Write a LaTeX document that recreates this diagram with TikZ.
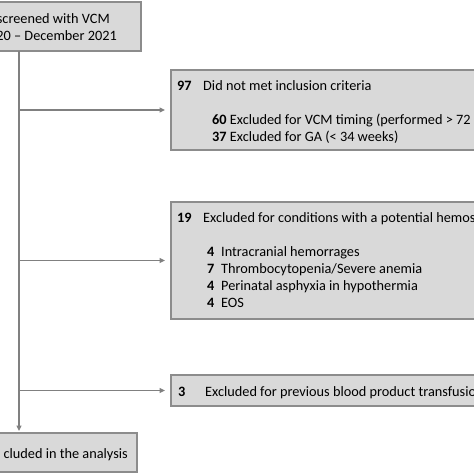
\documentclass[tikz,border=0pt]{standalone}
\usepackage{fontspec}
\setmainfont{Carlito}
\usetikzlibrary{arrows.meta}
\definecolor{cFill}{HTML}{D9D9D9}
\definecolor{cEdge}{HTML}{8C8C8C}
\definecolor{cLine}{HTML}{808080}
\tikzset{
  box/.style ={draw=cEdge,fill=cFill,line width=1.4pt,inner sep=0pt,
               outer sep=0pt,anchor=north west},
  txt/.style ={anchor=base west,inner sep=0pt,
               font=\fontsize{14.3}{17}\selectfont},
  num/.style ={txt,font=\fontsize{14.3}{17}\selectfont\bfseries},
  flow/.style={-{Triangle[length=5.5pt,width=5pt]},draw=cLine,line width=1.4pt},
}

\begin{document}
\begin{tikzpicture}[x=1pt,y=-1pt]
\useasboundingbox (0,0) rectangle (474,474);
\clip (0,0) rectangle (474,474);

% boxes (cut off at the picture edges)
\node[box,minimum width=221pt,minimum height=49pt]  (screen) at (-80,2)   {};
\node[box,minimum width=340pt,minimum height=80pt]  (excl1)  at (171,70)  {};
\node[box,minimum width=340pt,minimum height=117pt] (excl2)  at (171,202) {};
\node[box,minimum width=340pt,minimum height=31pt]  (excl3)  at (171,375) {};
\node[box,minimum width=217pt,minimum height=39pt]  (incl)   at (-80,433) {};

% texts
\node[txt,anchor=base east] (t0a) at (110,23) {screened with VCM};
\node[txt,anchor=base east] (t0b) at (117,40) {20 -- December 2021};

\node[num] (n1)  at (177,90)  {97};
\node[txt] (t1)  at (203,90)  {Did not met inclusion criteria};
\node[txt] (t1a) at (212,124) {\textbf{60} Excluded for VCM timing (performed > 72 hours)};
\node[txt] (t1b) at (212,141) {\textbf{37} Excluded for GA (< 34 weeks)};

\node[num] (n2)  at (177,222) {19};
\node[txt] (t2)  at (203,222) {Excluded for conditions with a potential hemostatic impairment};
\node[num] (n2a) at (207,256) {4};
\node[txt] (t2a) at (221,256) {Intracranial hemorrages};
\node[num] (n2b) at (207,273) {7};
\node[txt] (t2b) at (221,273) {Thrombocytopenia/Severe anemia};
\node[num] (n2c) at (207,290) {4};
\node[txt] (t2c) at (221,290) {Perinatal asphyxia in hypothermia};
\node[num] (n2d) at (207,307) {4};
\node[txt] (t2d) at (221,307) {EOS};

\node[num] (n3)  at (178,396) {3};
\node[txt] (t3)  at (205,396) {Excluded for previous blood product transfusion};

\node[txt,anchor=base east] (t4) at (128,458) {cluded in the analysis};

% connectors
\coordinate (spine) at (19,0);
\draw[flow,shorten >=2pt] (spine |- screen.south) -- (spine |- incl.north);
\foreach \b in {excl1,excl2,excl3}{%
  \draw[flow,shorten >=6pt] (spine |- \b.west) -- (\b.west);}
\end{tikzpicture}
\end{document}
